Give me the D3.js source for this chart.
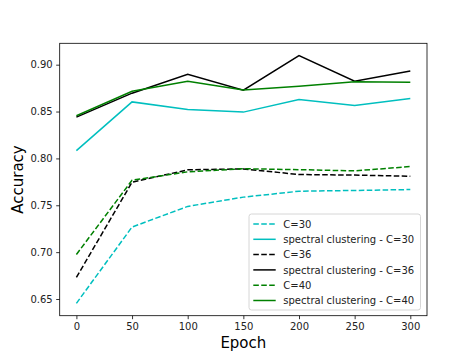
<!DOCTYPE html>
<html><head><meta charset="utf-8">
<script src="https://cdn.jsdelivr.net/npm/d3@7"></script>
<style>body{margin:0;background:#fff}svg{display:block;font-family:"DejaVu Sans",sans-serif}</style>
</head><body><svg id="c" width="474" height="355"></svg>
<script>
const epochs = [0, 50, 100, 150, 200, 250, 300];
const c30 = [0.6454, 0.7268, 0.7488, 0.7587, 0.7650, 0.7658, 0.7668];
const sc30 = [0.8083, 0.8603, 0.8521, 0.8494, 0.8628, 0.8564, 0.8638];
const c36 = [0.6730, 0.7746, 0.7878, 0.7888, 0.7828, 0.7822, 0.7810];
const sc36 = [0.8441, 0.8696, 0.8898, 0.8728, 0.9096, 0.8823, 0.8933];
const c40 = [0.6975, 0.7767, 0.7857, 0.7890, 0.7880, 0.7867, 0.7913];
const sc40 = [0.8455, 0.8717, 0.8823, 0.8731, 0.8770, 0.8819, 0.8813];
const seriesNames = ["C=30", "spectral clustering - C=30", "C=36", "spectral clustering - C=36", "C=40", "spectral clustering - C=40"];
const xTicks = [0, 50, 100, 150, 200, 250, 300];
const yTicks = [0.65, 0.70, 0.75, 0.80, 0.85, 0.90];

const series = [
  {name: seriesNames[0], vals: c30, color: "#00bfbf", dash: true},
  {name: seriesNames[1], vals: sc30, color: "#00bfbf", dash: false},
  {name: seriesNames[2], vals: c36, color: "#000000", dash: true},
  {name: seriesNames[3], vals: sc36, color: "#000000", dash: false},
  {name: seriesNames[4], vals: c40, color: "#008000", dash: true},
  {name: seriesNames[5], vals: sc40, color: "#008000", dash: false}
];

const L = 59.7, R = 427, T = 43.3, B = 315.7;
const svg = d3.select("#c");
const allV = [].concat(c30, sc30, c36, sc36, c40, sc40);
const ymin = d3.min(allV), ymax = d3.max(allV);
const ypad = (ymax - ymin) * 0.05;
const x = d3.scaleLinear().domain([-15, 315]).range([L, R]);
const y = d3.scaleLinear().domain([ymin - ypad, ymax + ypad]).range([B, T]);

const line = d3.line().x((d, i) => x(epochs[i])).y(d => y(d));
const dashArr = "5.55,2.4";

svg.append("g").selectAll("path").data(series).join("path")
  .attr("d", d => line(d.vals))
  .attr("fill", "none")
  .attr("stroke", d => d.color)
  .attr("stroke-width", 1.5)
  .attr("stroke-dasharray", d => d.dash ? dashArr : null);

// axes
const xa = svg.append("g").attr("transform", `translate(0,${B})`)
  .call(d3.axisBottom(x).tickValues(xTicks).tickSize(3.5).tickPadding(3.5).tickFormat(d3.format("d")));
const ya = svg.append("g").attr("transform", `translate(${L},0)`)
  .call(d3.axisLeft(y).tickValues(yTicks).tickSize(3.5).tickPadding(3.5).tickFormat(d3.format(".2f")));
[xa, ya].forEach(a => {
  a.select(".domain").remove();
  a.selectAll("line").attr("stroke", "#000").attr("stroke-width", 0.8);
  a.selectAll("text").attr("font-size", 10).attr("fill", "#222").attr("font-family", "DejaVu Sans");
});
svg.append("rect").attr("x", L).attr("y", T).attr("width", R - L).attr("height", B - T)
  .attr("fill", "none").attr("stroke", "#000").attr("stroke-width", 0.8);

svg.append("text").attr("x", (L + R) / 2).attr("y", 348).attr("text-anchor", "middle")
  .attr("font-size", 15).attr("fill", "#000").text("Epoch");
svg.append("text").attr("transform", `translate(23,${(T + B) / 2}) rotate(-90)`).attr("text-anchor", "middle")
  .attr("font-size", 15).attr("fill", "#000").text("Accuracy");

// legend
const lg = svg.append("g");
lg.append("rect").attr("x", 249).attr("y", 214).attr("width", 171.5).attr("height", 96)
  .attr("rx", 2.5).attr("fill", "#fff").attr("fill-opacity", 0.8).attr("stroke", "#cccccc").attr("stroke-width", 0.8);
const rows = lg.selectAll("g").data(series).join("g")
  .attr("transform", (d, i) => `translate(0,${224 + i * 15.3})`);
rows.append("line").attr("x1", 253.3).attr("x2", 275.7).attr("y1", 0).attr("y2", 0)
  .attr("stroke", d => d.color).attr("stroke-width", 1.5)
  .attr("stroke-dasharray", d => d.dash ? dashArr : null);
rows.append("text").attr("x", 283.3).attr("y", 3.6).attr("font-size", 10).attr("fill", "#222").text(d => d.name);
</script></body></html>
